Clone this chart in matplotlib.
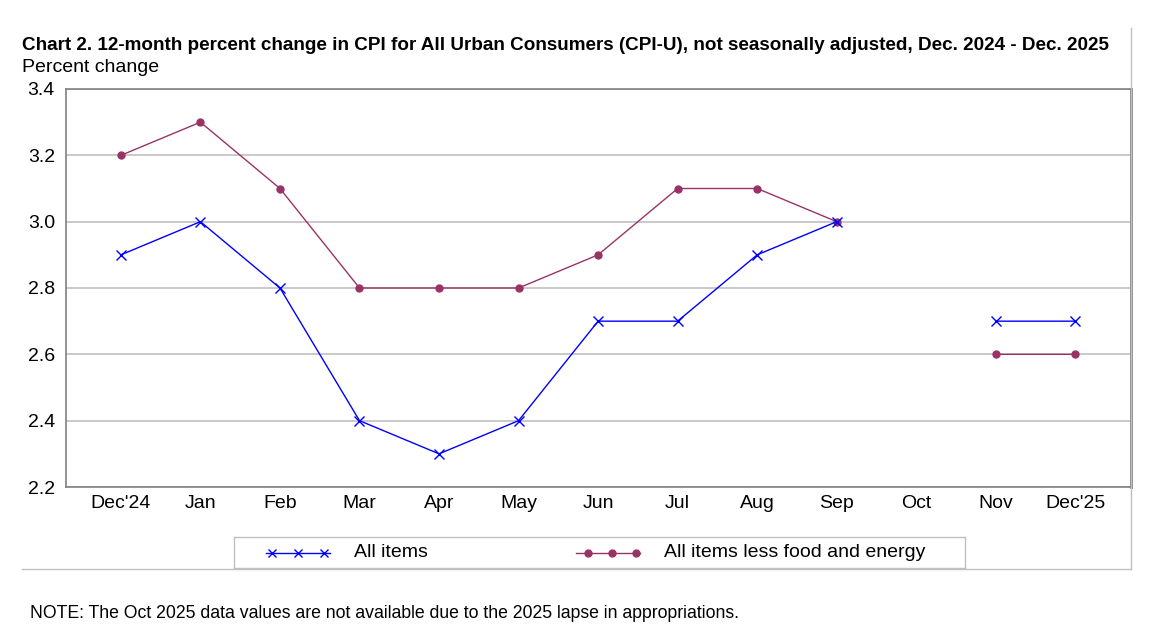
import numpy as np
import matplotlib.pyplot as plt
from matplotlib.lines import Line2D

months = ["Dec'24", "Jan", "Feb", "Mar", "Apr", "May", "Jun", "Jul", "Aug", "Sep", "Oct", "Nov", "Dec'25"]
all_items = [2.9, 3.0, 2.8, 2.4, 2.3, 2.4, 2.7, 2.7, 2.9, 3.0, np.nan, 2.7, 2.7]
core = [3.2, 3.3, 3.1, 2.8, 2.8, 2.8, 2.9, 3.1, 3.1, 3.0, np.nan, 2.6, 2.6]
yticks = [2.2, 2.4, 2.6, 2.8, 3.0, 3.2, 3.4]

blue = '#0000ff'
maroon = '#993366'

plt.rcParams['font.family'] = ['Liberation Sans', 'DejaVu Sans']

fig = plt.figure(figsize=(11.51, 6.35), dpi=100)
W, H = 1151, 635
# plot area in pixels: left 66, right 1131, top 89, bottom 487
ax = fig.add_axes([66 / W, 1 - 487 / H, (1131 - 66) / W, (487 - 89) / H])

x = np.arange(len(months))
ax.plot(x, core, color=maroon, lw=1, marker='o', ms=5, zorder=3)
ax.plot(x, all_items, color=blue, lw=1, marker='x', ms=7, mew=1, zorder=4)

ax.set_xlim(-0.69, 12.7)
ax.set_ylim(2.2, 3.4)
ax.set_xticks(x)
ax.set_xticklabels(months)
ax.set_yticks(yticks)
ax.set_yticklabels(['%.1f' % v for v in yticks])
ax.tick_params(axis='both', labelsize=14, colors='#000000', length=0)
ax.tick_params(axis='x', pad=6)
ax.tick_params(axis='y', pad=8)
ax.grid(axis='y', color='#c0c0c0', lw=1.2)
ax.set_axisbelow(True)
for s in ax.spines.values():
    s.set_color('#808080')
    s.set_linewidth(1.2)
ax.spines['right'].set_linewidth(2)

# outer frame lines
fig.add_artist(Line2D([22 / W, 1131 / W], [1 - 569 / H, 1 - 569 / H], color='#c0c0c0', lw=1))
fig.add_artist(Line2D([1131 / W, 1131 / W], [1 - 28 / H, 1 - 569 / H], color='#c0c0c0', lw=1))

title = fig.text(22 / W, 1 - 45 / H, 'Chart 2. 12-month percent change in CPI for All Urban Consumers (CPI-U), not seasonally adjusted, Dec. 2024 - Dec. 2025',
                 fontsize=14, fontweight='bold', va='center', ha='left')
# shrink title to the reference width
r = fig.canvas.get_renderer()
tw = title.get_window_extent(renderer=r).width
title.set_fontsize(14 * 1091 / tw)
fig.text(22 / W, 1 - 68 / H, 'Percent change', fontsize=14, va='center', ha='left')

leg_ax = fig.add_axes([234 / W, 1 - 568 / H, (965 - 234) / W, 31 / H])
leg_ax.set_xlim(0, 731)
leg_ax.set_ylim(0, 31)
leg_ax.set_xticks([])
leg_ax.set_yticks([])
for s in leg_ax.spines.values():
    s.set_color('#c0c0c0')
    s.set_linewidth(1)
leg_ax.plot([32, 96], [15.5, 15.5], color=blue, lw=1)
leg_ax.plot([38, 64, 90], [15.5] * 3, ls='none', marker='x', ms=6, color=blue)
leg_ax.text(120, 15.5, 'All items', fontsize=14, va='center')
leg_ax.plot([342, 406], [15.5, 15.5], color=maroon, lw=1)
leg_ax.plot([354, 378, 402], [15.5] * 3, ls='none', marker='o', ms=5, color=maroon)
leg_ax.text(430, 15.5, 'All items less food and energy', fontsize=14, va='center')

fig.text(30 / W, 1 - 613 / H, 'NOTE: The Oct 2025 data values are not available due to the 2025 lapse in appropriations.',
         fontsize=12.7, va='center', ha='left')

fig.savefig('out.png', dpi=100)
